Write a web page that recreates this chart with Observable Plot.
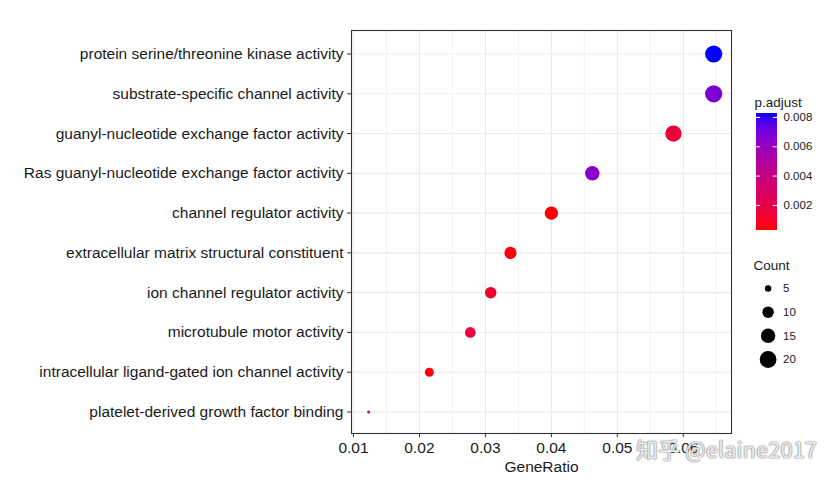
<!DOCTYPE html>
<html>
<head>
<meta charset="utf-8">
<script src="https://cdn.jsdelivr.net/npm/d3@7"></script>
<script src="https://cdn.jsdelivr.net/npm/@observablehq/plot@0.6"></script>
<style>
  html, body { margin: 0; padding: 0; background: #fff; }
  #wrap { position: relative; width: 829px; height: 482px; overflow: hidden; font-family: "Liberation Sans", Arial, sans-serif; }
  #wrap svg { position: absolute; overflow: visible; }
  .wm { position: absolute; font-family: "Noto Sans CJK SC", "Liberation Sans", sans-serif; font-size: 22px; color: rgba(255,255,255,0.85);
        text-shadow: 0 0 1px #888, 0 0 1px #888, 0 0 2px #999; white-space: nowrap; }
</style>
</head>
<body>
<div id="wrap"></div>
<script>
// ---- data (top to bottom) ----
const terms = [
  "protein serine/threonine kinase activity",
  "substrate-specific channel activity",
  "guanyl-nucleotide exchange factor activity",
  "Ras guanyl-nucleotide exchange factor activity",
  "channel regulator activity",
  "extracellular matrix structural constituent",
  "ion channel regulator activity",
  "microtubule motor activity",
  "intracellular ligand-gated ion channel activity",
  "platelet-derived growth factor binding"
];
const geneRatio = [0.0646, 0.0646, 0.0585, 0.0462, 0.0400, 0.0338, 0.0308, 0.0277, 0.0215, 0.0123];
const counts    = [21, 21, 19, 15, 13, 11, 10, 9, 7, 4];
const pAdjust   = [0.0082, 0.0068, 0.0017, 0.0065, 0.00036, 0.0005, 0.0013, 0.0018, 0.0005, 0.0036];
const xTicks = [0.01, 0.02, 0.03, 0.04, 0.05, 0.06];
const xMinor = [0.015, 0.025, 0.035, 0.045, 0.055, 0.065];
const colorTicks = [0.002, 0.004, 0.006, 0.008];
const sizeKeys = [5, 10, 15, 20];

const data = terms.map((t, i) => ({term: t, ratio: geneRatio[i], count: counts[i], p: pAdjust[i]}));

const [cMin, cMax] = d3.extent(counts);
const [pMin, pMax] = d3.extent(pAdjust);
const FONT = "Liberation Sans, Arial, sans-serif";

const colorOpts = {type: "linear", domain: [pMin, pMax], range: ["red", "blue"], interpolate: "lab"};
const rOpts = {type: "linear", transform: c => Math.sqrt(Math.max(0, c - cMin) / (cMax - cMin)), domain: [0, 1], range: [1.5, 8.6]};

const wrap = document.getElementById("wrap");

// ---- main plot ----
const main = Plot.plot({
  width: 829, height: 482,
  marginLeft: 351, marginRight: 98, marginTop: 30, marginBottom: 49,
  style: {fontFamily: FONT, fontSize: "15.5px", color: "#1a1a1a", background: "transparent"},
  x: {domain: [0.0097, 0.0673]},
  y: {type: "point", domain: terms, range: [53.5, 411.5], padding: 0, round: false},
  color: colorOpts,
  r: rOpts,
  marks: [
    Plot.gridX(xMinor, {stroke: "#ebebeb", strokeOpacity: 1, strokeWidth: 0.6}),
    Plot.gridX(xTicks, {stroke: "#ebebeb", strokeOpacity: 1, strokeWidth: 1.1}),
    Plot.gridY(terms, {stroke: "#ebebeb", strokeOpacity: 1, strokeWidth: 1.1}),
    Plot.axisX({ticks: xTicks, tickSize: 4, tickPadding: 4, stroke: "#333", fill: "#1a1a1a", fontSize: 15.5,
      tickFormat: d3.format(".2f"), label: "GeneRatio", labelAnchor: "center", labelArrow: "none", labelOffset: 38}),
    Plot.axisY({tickSize: 4, tickPadding: 4, stroke: "#333", fill: "#1a1a1a", fontSize: 15.5, label: null}),
    Plot.dot(data, {x: "ratio", y: "term", r: "count", fill: "p", stroke: null}),
    Plot.frame({stroke: "#333", strokeWidth: 1.1})
  ]
});
main.style.left = "0px"; main.style.top = "0px";
wrap.appendChild(main);

// ---- colour legend ----
const ramp = d3.range(0, 115).map(i => {
  const a = pMin + (pMax - pMin) * i / 115, b = pMin + (pMax - pMin) * (i + 1) / 115;
  return {y1: a, y2: b, v: (a + b) / 2};
});
const cLeg = Plot.plot({
  width: 80, height: 135,
  marginLeft: 2, marginRight: 57, marginTop: 20, marginBottom: 0,
  style: {fontFamily: FONT, fontSize: "11.5px", color: "#1a1a1a", background: "transparent", overflow: "visible"},
  x: {domain: [0, 1], axis: null},
  y: {domain: [pMin, pMax], axis: null},
  color: colorOpts,
  marks: [
    Plot.rectY(ramp, {x1: 0, x2: 1, y1: "y1", y2: "y2", fill: "v", insetTop: -0.6, insetBottom: -0.6, shapeRendering: "crispEdges"}),
    Plot.ruleY(colorTicks, {y: d => d, x1: 0, x2: 0.2, stroke: "white", strokeWidth: 1}),
    Plot.ruleY(colorTicks, {y: d => d, x1: 0.8, x2: 1, stroke: "white", strokeWidth: 1}),
    Plot.text(colorTicks, {y: d => d, x: 1, dx: 6, text: d => d3.format(".3f")(d), textAnchor: "start", fill: "#1a1a1a"}),
    Plot.text(["p.adjust"], {frameAnchor: "top-left", dy: -17, dx: -2, text: d => d, fontSize: 13.5, textAnchor: "start", fill: "#1a1a1a"})
  ]
});
cLeg.style.left = "754px"; cLeg.style.top = "94px";
wrap.appendChild(cLeg);

// ---- size legend ----
const sLeg = Plot.plot({
  width: 80, height: 110,
  marginLeft: 2, marginRight: 50, marginTop: 20, marginBottom: 0,
  style: {fontFamily: FONT, fontSize: "11.5px", color: "#1a1a1a", background: "transparent", overflow: "visible"},
  x: {domain: [0, 1], axis: null},
  y: {type: "point", domain: sizeKeys, range: [288 - 256, 359 - 256], padding: 0, round: false, axis: null},
  r: rOpts,
  marks: [
    Plot.dot(sizeKeys, {x: 0.45, y: d => d, r: d => d, fill: "black", stroke: null}),
    Plot.text(sizeKeys, {x: 0.45, y: d => d, dx: 15, text: d => String(d), textAnchor: "start", fill: "#1a1a1a"}),
    Plot.text(["Count"], {frameAnchor: "top-left", dy: -16, dx: -2, text: d => d, fontSize: 13.5, textAnchor: "start", fill: "#1a1a1a"})
  ]
});
sLeg.style.left = "753px"; sLeg.style.top = "256px";
wrap.appendChild(sLeg);

// ---- watermark ----
const wm = document.createElement("div");
wm.className = "wm";
wm.textContent = "知乎 @elaine2017";
wm.style.left = "636px"; wm.style.top = "432px";
wrap.appendChild(wm);
</script>
</body>
</html>
